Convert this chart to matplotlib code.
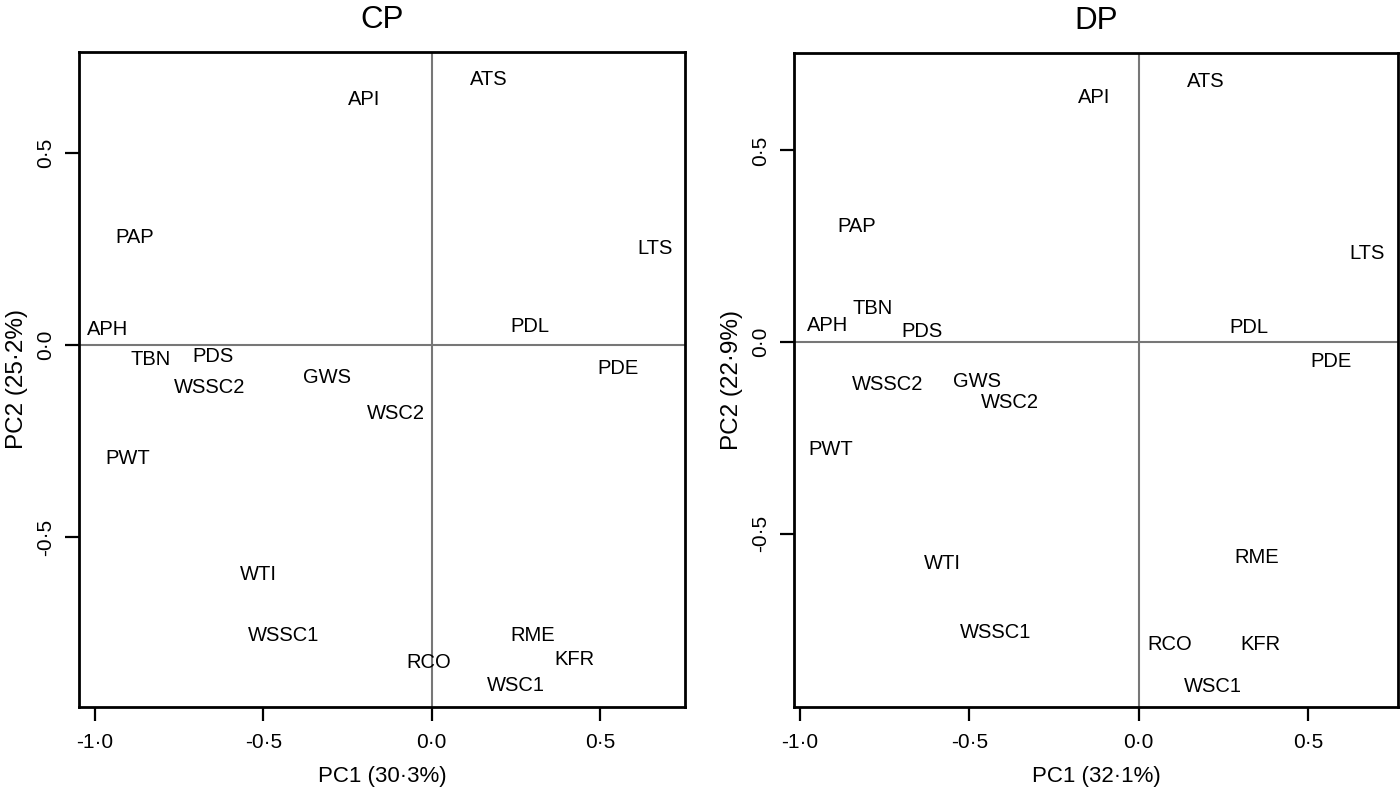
import matplotlib
matplotlib.use("Agg")
import matplotlib.pyplot as plt

plt.rcParams['font.family'] = ['Liberation Sans', 'DejaVu Sans']

# ---- data ----
cp_labels = ["ATS", "API", "PAP", "LTS", "APH", "PDL", "TBN", "PDS", "PDE", "GWS",
             "WSSC2", "WSC2", "PWT", "WTI", "WSSC1", "RME", "RCO", "KFR", "WSC1"]
cp_pc1 = [0.170, -0.201, -0.883, 0.664, -0.962, 0.291, -0.834, -0.650, 0.554, -0.311,
          -0.660, -0.106, -0.901, -0.515, -0.440, 0.299, -0.009, 0.423, 0.250]
cp_pc2 = [0.689, 0.639, 0.279, 0.250, 0.039, 0.048, -0.037, -0.029, -0.062, -0.085,
          -0.111, -0.178, -0.296, -0.596, -0.756, -0.756, -0.825, -0.817, -0.884]

dp_labels = ["ATS", "API", "PAP", "LTS", "TBN", "APH", "PDS", "PDL", "PDE", "WSSC2",
             "GWS", "WSC2", "PWT", "RME", "WTI", "WSSC1", "RCO", "KFR", "WSC1"]
dp_pc1 = [0.200, -0.130, -0.832, 0.674, -0.784, -0.918, -0.640, 0.327, 0.570, -0.741,
          -0.478, -0.379, -0.909, 0.348, -0.578, -0.421, 0.093, 0.360, 0.221]
dp_pc2 = [0.680, 0.638, 0.301, 0.232, 0.088, 0.042, 0.027, 0.038, -0.050, -0.110,
          -0.104, -0.158, -0.280, -0.563, -0.578, -0.758, -0.789, -0.789, -0.898]

tick_vals = [-1.0, -0.5, 0.0, 0.5]
x_tick_labels = ["-1·0", "-0·5", "0·0", "0·5"]
y_tick_vals = [-0.5, 0.0, 0.5]
y_tick_labels = ["-0·5", "0·0", "0·5"]

panels = [
    dict(title="CP", labels=cp_labels, x=cp_pc1, y=cp_pc2,
         xlabel="PC1 (30·3%)", ylabel="PC2 (25·2%)",
         xlim=(-1.047, 0.751), ylim=(-0.940, 0.762),
         rect=[0.0564, 0.1122, 0.4328, 0.8228]),
    dict(title="DP", labels=dp_labels, x=dp_pc1, y=dp_pc2,
         xlabel="PC1 (32·1%)", ylabel="PC2 (22·9%)",
         xlim=(-1.017, 0.767), ylim=(-0.952, 0.755),
         rect=[0.5673, 0.1122, 0.4314, 0.8216]),
]

fig = plt.figure(figsize=(14, 7.96), dpi=100)

for p in panels:
    ax = fig.add_axes(p["rect"])
    ax.set_xlim(*p["xlim"])
    ax.set_ylim(*p["ylim"])
    ax.axhline(0, color="#777777", lw=1.5, zorder=1)
    ax.axvline(0, color="#777777", lw=1.5, zorder=1)
    for lab, xv, yv in zip(p["labels"], p["x"], p["y"]):
        ax.text(xv, yv, lab, ha="center", va="center", fontsize=14.5, color="black", zorder=3)
    for s in ax.spines.values():
        s.set_linewidth(2.0)
        s.set_color("black")
    ax.set_xticks(tick_vals)
    ax.set_xticklabels(x_tick_labels, fontsize=15)
    ax.set_yticks(y_tick_vals)
    ax.set_yticklabels(y_tick_labels, fontsize=15, rotation=90, va="center")
    ax.tick_params(axis="both", direction="out", length=10, width=1.6, color="black")
    ax.tick_params(axis="x", pad=9)
    ax.tick_params(axis="y", pad=7)
    ax.set_title(p["title"], fontsize=22.5, pad=17)
    ax.set_xlabel(p["xlabel"], fontsize=16, labelpad=10)
    ax.set_ylabel(p["ylabel"], fontsize=17.5, labelpad=6)

fig.savefig("out.png", dpi=100)
